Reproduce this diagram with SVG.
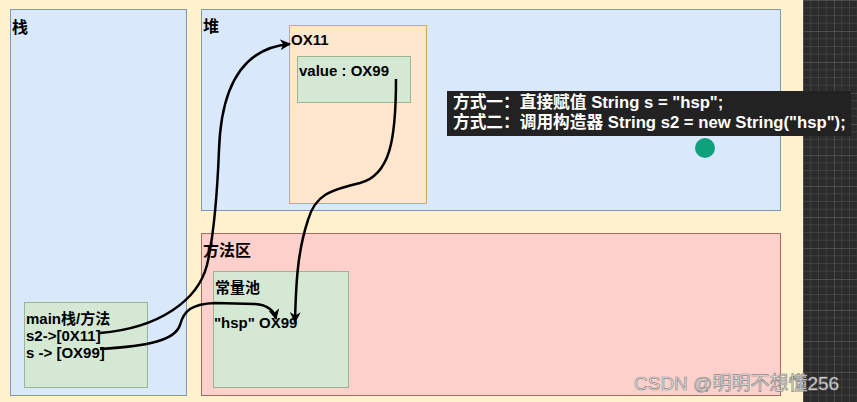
<svg xmlns="http://www.w3.org/2000/svg" width="857" height="402" viewBox="0 0 857 402">
<style>
.t{font-family:"Liberation Sans","Noto Sans CJK SC",sans-serif;font-weight:bold;font-size:15px;fill:#000}
.h{font-size:16px}
.blue{fill:#dae8fc;stroke:#8297b8;stroke-width:1}
.green{fill:#d5e8d4;stroke:#9ab58f;stroke-width:1}
.orange{fill:#ffe6cc;stroke:#d6a56a;stroke-width:1}
.red{fill:#fdd0cc;stroke:#a86a62;stroke-width:1}
.edge{fill:none;stroke:#000;stroke-width:2.5;marker-end:url(#arr)}
.tip{font-family:"Liberation Sans","Noto Sans CJK SC",sans-serif;font-weight:bold;font-size:16.7px;fill:#fff}
.wm{font-family:"Liberation Sans","Noto Sans CJK SC",sans-serif;font-size:19px;fill:#ececec;stroke:#8a8a8a;stroke-width:0.7}
</style>
<defs>
<marker id="arr" viewBox="0 0 10 10" refX="9" refY="5" markerWidth="11" markerHeight="11" markerUnits="userSpaceOnUse" orient="auto">
<path d="M0,0 L10,5 L0,10 L3,5 Z" fill="#000"/>
</marker>
<pattern id="grid" x="803" y="0" width="31" height="31" patternUnits="userSpaceOnUse">
<rect width="31" height="31" fill="#2b2b2b"/>
<path d="M7.75,0V31M15.5,0V31M23.25,0V31M0,7.75H31M0,15.5H31M0,23.25H31" stroke="#3f3f3f" stroke-width="1"/>
<path d="M0,0V31M0,0H31" stroke="#6a6a6a" stroke-width="1"/>
</pattern>
</defs>
<rect x="0" y="0" width="857" height="402" fill="#fff2cc"/>
<rect x="803" y="0" width="54" height="402" fill="url(#grid)"/>

<g id="stack">
<rect class="blue" x="10.5" y="9.5" width="176" height="386"/>
<text class="t h" x="12" y="33">栈</text>
</g>
<g id="heap">
<rect class="blue" x="201.5" y="9.5" width="579" height="201"/>
<text class="t h" x="203" y="32">堆</text>
</g>
<g id="obj-ox11">
<rect class="orange" x="289.5" y="25.5" width="137" height="178"/>
<text class="t" x="291" y="45">OX11</text>
</g>
<g id="value">
<rect class="green" x="297.5" y="56.5" width="113" height="46"/>
<text class="t" x="299" y="76">value : OX99</text>
</g>
<g id="method-area">
<rect class="red" x="201.5" y="233.5" width="579" height="162"/>
<text class="t h" x="203" y="256">方法区</text>
</g>
<g id="const-pool">
<rect class="green" x="213.5" y="271.5" width="135" height="116"/>
<text class="t" x="215" y="293">常量池</text>
<text class="t" x="214" y="328">"hsp" OX99</text>
</g>
<g id="main">
<rect class="green" x="24.5" y="302.5" width="123" height="85"/>
<text class="t" x="26" y="324">main栈/方法</text>
<text class="t" x="26" y="341">s2-&gt;[0X11]</text>
<text class="t" x="26" y="358">s -&gt; [OX99]</text>
</g>

<g id="connectors">
<path class="edge" d="M100,333 C160,328 198,300 207,265 C214,235 217,200 219,150 C221,90 240,48 290,44"/>
<path class="edge" d="M396,79 C396,140 390,175 360,183 C330,190 315,195 308,220 C298,250 296,280 295,322"/>
<path class="edge" d="M100,349 C150,346 175,340 180,325 C184,310 192,304 215,303 L255,304 C268,305 274,310 276,319"/>
</g>

<g id="tooltip">
<rect x="447" y="91" width="404" height="45" fill="#222222"/>
<text class="tip" x="453" y="108">方式一：直接赋值 String s = "hsp";</text>
<text class="tip" x="453" y="128">方式二：调用构造器 String s2 = new String("hsp");</text>
</g>
<circle cx="705" cy="148" r="10" fill="#0fa17c"/>
<text class="wm" x="634" y="390">CSDN @明明不想懂256</text>
</svg>
